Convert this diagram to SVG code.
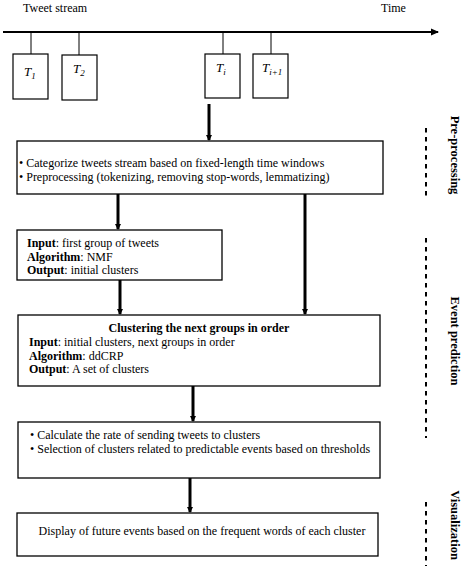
<svg xmlns="http://www.w3.org/2000/svg" width="474" height="566" viewBox="0 0 474 566">
<defs>
<marker id="ah" markerWidth="6" markerHeight="6" refX="5" refY="3" orient="auto" markerUnits="userSpaceOnUse">
<path d="M0,0 L6,3 L0,6 Z" fill="#000"/>
</marker>
<marker id="ahs" markerWidth="8" markerHeight="8" refX="7" refY="4" orient="auto" markerUnits="userSpaceOnUse">
<path d="M0,0.5 L8,4 L0,7.5 Z" fill="#000"/>
</marker>
<style>
text{font-family:"Liberation Serif","Times New Roman",serif;font-size:12px;fill:#000}
.b{font-weight:bold}
.box{fill:#fff;stroke:#000;stroke-width:1.3}
.win{fill:#fff;stroke:#000;stroke-width:1.2}
.tick{stroke:#000;stroke-width:1}
.arr{stroke:#000;stroke-width:3;fill:none;marker-end:url(#ah)}
.dash{stroke:#000;stroke-width:2;stroke-dasharray:4.5 4.5}
.lab{font-weight:bold;font-size:12.5px}
.t{font-style:italic;font-size:13px}
.sub{font-style:italic;font-size:9px}
</style>
</defs>
<rect width="474" height="566" fill="#fff"/>
<text x="23" y="12">Tweet stream</text>
<text x="381" y="12">Time</text>
<g id="timeline">
<line x1="3" y1="32" x2="438" y2="32" stroke="#000" stroke-width="2" marker-end="url(#ahs)"/>
<line class="tick" x1="31" y1="32" x2="31" y2="54"/>
<line class="tick" x1="79" y1="32" x2="79" y2="55"/>
<line class="tick" x1="223" y1="32" x2="223" y2="54"/>
<line class="tick" x1="271" y1="32" x2="271" y2="54"/>
</g>
<g id="T1"><rect class="win" x="13" y="54" width="35" height="45"/><text class="t" x="24" y="76">T<tspan class="sub" dy="3">1</tspan></text></g>
<g id="T2"><rect class="win" x="62" y="55" width="35" height="45"/><text class="t" x="73" y="73">T<tspan class="sub" dy="3">2</tspan></text></g>
<g id="Ti"><rect class="win" x="205" y="54" width="35" height="44"/><text class="t" x="216" y="72">T<tspan class="sub" dy="3">i</tspan></text></g>
<g id="Ti1"><rect class="win" x="253" y="54" width="35" height="44"/><text class="t" x="262" y="72">T<tspan class="sub" dy="3">i+1</tspan></text></g>
<g id="connectors">
<line class="arr" x1="209" y1="104" x2="209" y2="140"/>
<line class="arr" x1="118" y1="194" x2="118" y2="229"/>
<line class="arr" x1="305" y1="194" x2="305" y2="314"/>
<line class="arr" x1="120" y1="280" x2="120" y2="314"/>
<line class="arr" x1="193" y1="386" x2="193" y2="421"/>
<line class="arr" x1="190" y1="478" x2="190" y2="512"/>
</g>
<g id="preprocess">
<rect class="box" x="17" y="141" width="366" height="53"/>
<text x="19" y="167">• Categorize tweets stream based on fixed-length time windows</text>
<text x="19" y="181">• Preprocessing (tokenizing, removing stop-words, lemmatizing)</text>
</g>
<g id="nmf">
<rect class="box" x="17" y="230" width="205" height="50"/>
<text x="27" y="247"><tspan class="b">Input</tspan>: first group of tweets</text>
<text x="27" y="261"><tspan class="b">Algorithm</tspan>: NMF</text>
<text x="27" y="274"><tspan class="b">Output</tspan>: initial clusters</text>
</g>
<g id="clustering">
<rect class="box" x="18" y="315" width="362" height="71"/>
<text class="b" x="199" y="332" text-anchor="middle">Clustering the next groups in order</text>
<text x="29" y="346"><tspan class="b">Input</tspan>: initial clusters, next groups in order</text>
<text x="29" y="360"><tspan class="b">Algorithm</tspan>: ddCRP</text>
<text x="29" y="373"><tspan class="b">Output</tspan>: A set of clusters</text>
</g>
<g id="rate">
<rect class="box" x="18" y="422" width="362" height="56"/>
<text x="30" y="439">• Calculate the rate of sending tweets to clusters</text>
<text x="30" y="453">• Selection of clusters related to predictable events based on thresholds</text>
</g>
<g id="display">
<rect class="box" x="17" y="513" width="361" height="43"/>
<text x="202" y="535" text-anchor="middle">Display of future events based on the frequent words of each cluster</text>
</g>
<g id="phases">
<line class="dash" x1="426" y1="128" x2="426" y2="196"/>
<line class="dash" x1="426" y1="238" x2="426" y2="438"/>
<line class="dash" x1="426" y1="502" x2="426" y2="566"/>
<text class="lab" transform="translate(451,155) rotate(90)" text-anchor="middle">Pre-processing</text>
<text class="lab" transform="translate(451,341) rotate(90)" text-anchor="middle">Event prediction</text>
<text class="lab" transform="translate(451,525) rotate(90)" text-anchor="middle">Visualization</text>
</g>
</svg>
